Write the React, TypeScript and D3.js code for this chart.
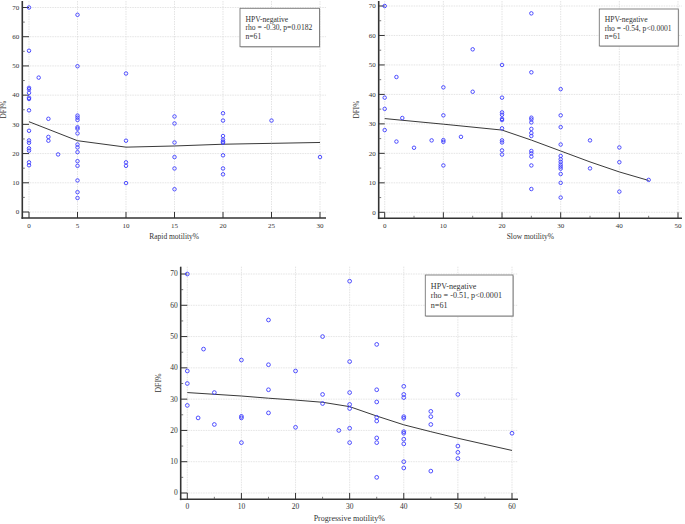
import * as d3 from 'd3';

// Panel A: rapid motility vs DFI
const rapidMotility = [
  0, 0, 0, 0, 0, 0, 0, 0, 0, 0, 0, 0, 0, 0, 0,
  1, 2, 2, 2, 3,
  5, 5, 5, 5, 5, 5, 5, 5, 5, 5, 5, 5, 5, 5, 5, 5,
  10, 10, 10, 10, 10,
  15, 15, 15, 15, 15, 15,
  20, 20, 20, 20, 20, 20, 20, 20, 20,
  25, 30,
];
const rapidDFI = [
  70, 55.2, 42.5, 42, 40.8, 39.1, 38.7, 34.8, 27.8, 24.5, 23.7, 21.8, 21, 17, 16,
  46, 31.9, 25.7, 24.4, 19.7,
  67.5, 49.9, 33, 32.3, 31.5, 29, 28.5, 26.9, 23.1, 22.1, 20.5, 17.4, 15.8, 10.8, 6.8, 4.8,
  47.4, 24.4, 17, 15.8, 9.9,
  32.7, 30.3, 23.8, 18.8, 14.9, 7.8,
  33.8, 31.3, 26, 24.8, 24.1, 23.7, 19.4, 14.9, 12.9,
  31.3, 18.8,
];
const rapidFitX = [0, 5, 10, 15, 20, 25, 30];
const rapidFitY = [30.9, 24.4, 22.2, 22.6, 23.2, 23.5, 23.8];

// Panel B: slow motility vs DFI
const slowMotility = [
  0, 0, 0, 0, 2, 2, 3, 5, 8,
  10, 10, 10, 10, 10, 13, 15, 15,
  20, 20, 20, 20, 20, 20, 20, 20, 20, 20, 20,
  25, 25, 25, 25, 25, 25, 25, 25, 25, 25, 25, 25, 25,
  30, 30, 30, 30, 30, 30, 30, 30, 30, 30, 30, 30, 30,
  35, 35, 40, 40, 40, 45,
];
const slowDFI = [
  70, 38.9, 35.1, 27.9, 45.9, 24, 32, 21.9, 24.4,
  42.4, 32.9, 24.5, 23.9, 15.9, 25.6, 55.3, 40.9,
  50, 38.9, 33.9, 33.1, 31.7, 31.3, 28.5, 24.4, 23.7, 21, 19.6,
  67.5, 47.5, 32.1, 31.5, 30.5, 28.3, 26.9, 25.9, 20.8, 20, 18.9, 15.9, 7.9,
  41.8, 32.9, 28.9, 23, 19.1, 18, 17.1, 16.2, 15.5, 14.8, 13, 10, 5,
  24.4, 14.9, 22, 17, 7, 11,
];
const slowFitX = [0, 10, 20, 25, 30, 35, 40, 45];
const slowFitY = [31.8, 29.9, 27.9, 24.5, 20.8, 17.1, 13.7, 10.8];

// Panel C: progressive motility vs DFI
const progMotility = [
  0, 0, 0, 0, 2, 3, 5, 5,
  10, 10, 10, 10, 15, 15, 15, 15, 20, 20,
  25, 25, 25, 28,
  30, 30, 30, 30, 30, 30, 30,
  35, 35, 35, 35, 35, 35, 35, 35,
  40, 40, 40, 40, 40, 40, 40, 40, 40, 40, 40,
  45, 45, 45, 45, 50, 50, 50, 50, 60,
];
const progDFI = [
  70, 39, 35, 28, 24, 46, 32.1, 21.9,
  42.5, 24.5, 24, 16.1, 55.3, 41, 33, 25.6, 39, 21,
  50, 31.5, 28.6, 20,
  67.7, 42, 32.1, 28.3, 27, 20.7, 16.1,
  47.5, 33, 29.1, 24.2, 23, 17.6, 16.1, 5,
  34.1, 31.5, 30.5, 24.4, 23.9, 19.6, 19.1, 17.2, 15.7, 10, 8,
  26.1, 24.4, 21.9, 7, 31.5, 15, 13, 11, 19.1,
];
const progFitX = [0, 10, 15, 20, 25, 30, 35, 40, 45, 50, 60];
const progFitY = [32.1, 31, 30.3, 29.7, 29, 27.6, 24.6, 21.8, 19.6, 17.5, 13.6];

const yTicks = [0, 10, 20, 30, 40, 50, 60, 70];
const yMinorTicks = [5, 15, 25, 35, 45, 55, 65];

const FONT = '"Liberation Serif", "Times New Roman", serif';

interface PanelProps {
  xs: number[];
  ys: number[];
  fitX: number[];
  fitY: number[];
  xMax: number;
  xStep: number;
  xMinor: boolean;
  xRange: [number, number];
  yRange: [number, number];
  axisLeft: number;
  axisBottom: number;
  top: number;
  right: number;
  xTitle: string;
  legend: string[];
  legendBox: [number, number, number, number];
  yTitleX: number;
  fs: number;
}

function Panel(p: PanelProps) {
  const x = d3.scaleLinear().domain([0, p.xMax]).range(p.xRange);
  const y = d3.scaleLinear().domain([0, 70]).range(p.yRange);
  const xTicks = d3.range(0, p.xMax + 0.1, p.xStep);
  const xMinorTicks = p.xMinor ? d3.range(p.xStep / 2, p.xMax, p.xStep) : [];
  const fit = d3.line<number>()
    .x(d => x(d))
    .y((_, i) => y(p.fitY[i]));
  const [lx, ly, lw, lh] = p.legendBox;
  const midX = (p.axisLeft + p.right) / 2;
  const midY = (p.top + p.axisBottom) / 2;

  return (
    <g fontFamily={FONT}>
      {/* grid */}
      {xTicks.map(t => (
        <line key={'gx' + t} x1={x(t)} x2={x(t)} y1={p.top} y2={p.axisBottom}
          stroke="#d9d9d9" strokeWidth={0.7} strokeDasharray="1.5,1" />
      ))}
      {yTicks.map(t => (
        <line key={'gy' + t} x1={p.axisLeft} x2={p.right} y1={y(t)} y2={y(t)}
          stroke="#d9d9d9" strokeWidth={0.7} strokeDasharray="1.5,1" />
      ))}

      {/* axes */}
      <line x1={p.axisLeft} x2={p.axisLeft} y1={p.top} y2={p.axisBottom + 0.8} stroke="#333" strokeWidth={1.6} />
      <line x1={p.axisLeft - 0.8} x2={p.right} y1={p.axisBottom} y2={p.axisBottom} stroke="#333" strokeWidth={1.6} />
      {yTicks.map(t => (
        <g key={'yt' + t}>
          <line x1={p.axisLeft} x2={x(0)} y1={y(t)} y2={y(t)} stroke="#333" strokeWidth={1} />
          <text x={p.axisLeft - 3} y={y(t)} dy="0.33em" textAnchor="end" fontSize={p.fs} fill="#333">{t}</text>
        </g>
      ))}
      {yMinorTicks.map(t => (
        <line key={'ym' + t} x1={p.axisLeft} x2={p.axisLeft + 2.5} y1={y(t)} y2={y(t)} stroke="#555" strokeWidth={0.8} />
      ))}
      {xTicks.map(t => (
        <g key={'xt' + t}>
          <line x1={x(t)} x2={x(t)} y1={p.axisBottom} y2={y(0)} stroke="#333" strokeWidth={1} />
          <text x={x(t)} y={p.axisBottom + 9.5 * p.fs / 7} textAnchor="middle" fontSize={p.fs} fill="#333">{t}</text>
        </g>
      ))}
      {xMinorTicks.map(t => (
        <line key={'xm' + t} x1={x(t)} x2={x(t)} y1={p.axisBottom} y2={p.axisBottom - 2.5} stroke="#555" strokeWidth={0.8} />
      ))}

      {/* titles */}
      <text x={midX} y={p.axisBottom + 20.5 * p.fs / 7} textAnchor="middle" fontSize={p.fs + 0.5} fill="#333">{p.xTitle}</text>
      <text transform={`translate(${p.yTitleX},${midY}) rotate(-90)`} textAnchor="middle" dy="0.33em"
        fontSize={p.fs + 0.3} fill="#333">DFI%</text>

      {/* fit line */}
      <path d={fit(p.fitX) ?? ''} fill="none" stroke="#222" strokeWidth={0.9} />

      {/* points */}
      {p.xs.map((v, i) => (
        <circle key={'pt' + i} cx={x(v)} cy={y(p.ys[i])} r={1.75 * p.fs / 7}
          fill="none" stroke="#3c3cff" strokeWidth={0.9} />
      ))}

      {/* legend */}
      <rect x={lx + 0.8} y={ly + 0.8} width={lw} height={lh} fill="#bbb" />
      <rect x={lx} y={ly} width={lw} height={lh} fill="#fff" stroke="#777" strokeWidth={0.9} />
      {p.legend.map((s, i) => (
        <text key={'lg' + i} x={lx + 5.5} y={ly + 13.2 * p.fs / 7 + i * 8.6 * p.fs / 7}
          fontSize={p.fs + 0.6} fill="#333">{s}</text>
      ))}
    </g>
  );
}

export default function App() {
  return (
    <svg width={685} height={524} style={{ position: 'absolute', left: 0, top: 0, background: '#fff' }}>
      <Panel
        xs={rapidMotility} ys={rapidDFI} fitX={rapidFitX} fitY={rapidFitY}
        xMax={30} xStep={5} xMinor={false}
        xRange={[29, 320]} yRange={[212, 7.5]}
        axisLeft={22.3} axisBottom={218} top={1} right={326}
        xTitle="Rapid motility%" yTitleX={4}
        legend={['HPV-negative', 'rho = -0.30, p=0.0182', 'n=61']}
        legendBox={[240, 8.3, 79.5, 38.4]} fs={7}
      />
      <Panel
        xs={slowMotility} ys={slowDFI} fitX={slowFitX} fitY={slowFitY}
        xMax={50} xStep={10} xMinor={true}
        xRange={[384.7, 678]} yRange={[212.3, 6]}
        axisLeft={378.7} axisBottom={218.3} top={1} right={682}
        xTitle="Slow motility%" yTitleX={357}
        legend={['HPV-negative', 'rho = -0.54, p<0.0001', 'n=61']}
        legendBox={[599.3, 9, 79, 37]} fs={7}
      />
      <Panel
        xs={progMotility} ys={progDFI} fitX={progFitX} fitY={progFitY}
        xMax={60} xStep={10} xMinor={true}
        xRange={[187.3, 512]} yRange={[493, 274]}
        axisLeft={180.7} axisBottom={499.3} top={266.7} right={518}
        xTitle="Progressive motility%" yTitleX={158.5}
        legend={['HPV-negative', 'rho = -0.51, p<0.0001', 'n=61']}
        legendBox={[425.3, 275, 87.7, 41]} fs={7.5}
      />
    </svg>
  );
}
